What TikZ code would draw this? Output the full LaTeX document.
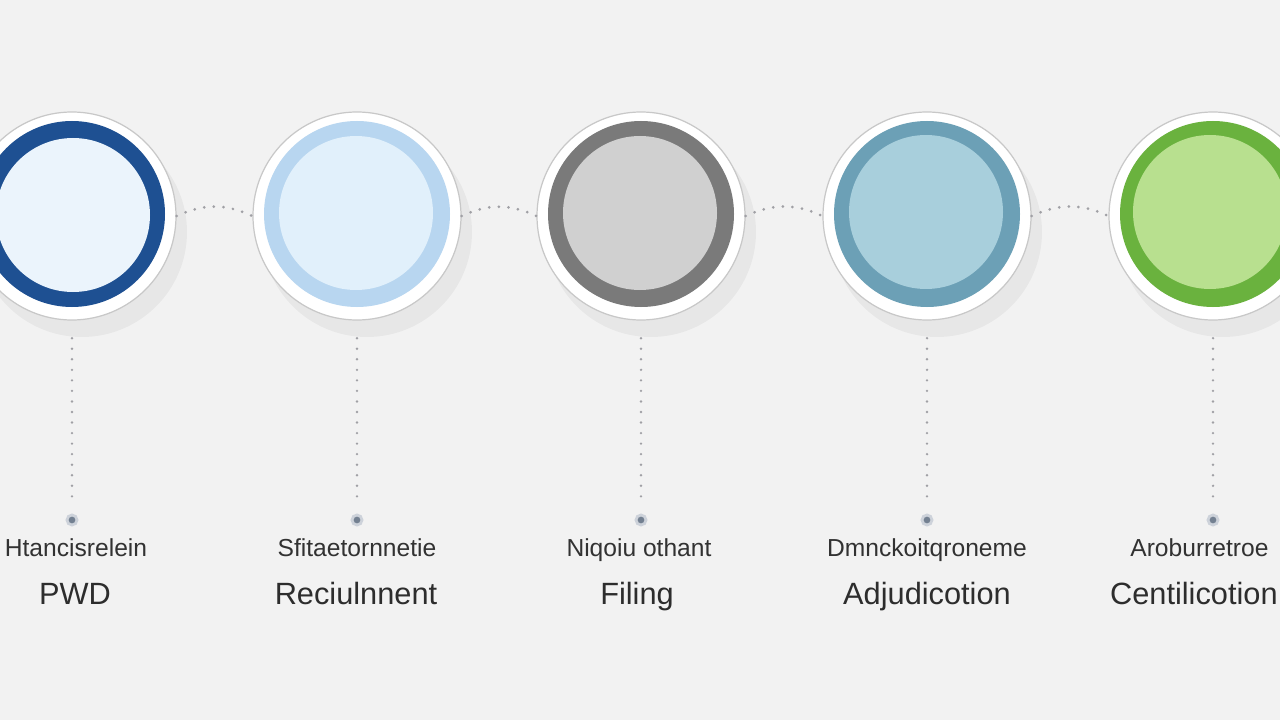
\documentclass[tikz,border=0pt]{standalone}
\usepackage{fontspec}
\setmainfont{Liberation Sans}
\usetikzlibrary{positioning}

\begin{document}
\begin{tikzpicture}[x=0.2mm, y=-0.2mm,
    shell/.style={circle, draw=shellgray, line width=0.7pt, fill=white, minimum size=4.16cm, inner sep=0pt},
    shade/.style={circle, fill=black, opacity=0.045, minimum size=4.2cm, inner sep=0pt},
    ring/.style={circle, minimum size=3.72cm, inner sep=0pt},
    core/.style={circle, minimum size=3.08cm, inner sep=0pt},
    link/.style={draw=linkgray, line width=1.7pt, dash pattern=on 0pt off 5.5pt, line cap=round},
    stem/.style={draw=linkgray, line width=1.5pt, dash pattern=on 0pt off 6pt, line cap=round},
    pin/.style={circle, fill=pingray, draw=pinring, line width=1.6pt, minimum size=0.2cm, inner sep=0pt},
    toptext/.style={font=\fontsize{14}{16}\selectfont, text=textgray, inner sep=0pt, anchor=base},
    bottext/.style={font=\fontsize{17.5}{20}\selectfont, text=textdark, inner sep=0pt, anchor=base}]
    \definecolor{bgcolor}{RGB}{242,242,242}
    \definecolor{shellgray}{RGB}{200,200,200}
    \definecolor{linkgray}{RGB}{160,160,165}
    \definecolor{pingray}{RGB}{115,128,145}
    \definecolor{pinring}{RGB}{205,210,218}
    \definecolor{textgray}{RGB}{50,50,50}
    \definecolor{textdark}{RGB}{45,45,45}
    \definecolor{navyring}{RGB}{30,80,146}
    \definecolor{navycore}{RGB}{235,244,252}
    \definecolor{skyring}{RGB}{184,214,240}
    \definecolor{skycore}{RGB}{225,240,251}
    \definecolor{stonering}{RGB}{122,122,122}
    \definecolor{stonecore}{RGB}{208,208,208}
    \definecolor{tealring}{RGB}{108,160,182}
    \definecolor{tealcore}{RGB}{168,207,220}
    \definecolor{leafring}{RGB}{106,178,62}
    \definecolor{leafcore}{RGB}{184,224,143}

    % Canvas
    \fill[bgcolor] (0,0) rectangle (1280,720);
    \useasboundingbox (0,0) rectangle (1280,720);

    % Soft shadows
    \node[shade] (shadowA) at (82,232) {};
    \node[shade] (shadowB) at (367,232) {};
    \node[shade] (shadowC) at (651,232) {};
    \node[shade] (shadowD) at (937,232) {};
    \node[shade] (shadowE) at (1223,232) {};

    % Outer shells
    \node[shell] (shellA) at (72,216) {};
    \node[shell] (shellB) at (357,216) {};
    \node[shell] (shellC) at (641,216) {};
    \node[shell] (shellD) at (927,216) {};
    \node[shell] (shellE) at (1213,216) {};

    % Coloured rings and cores
    \node[ring, fill=navyring] (ringA) at (72,214) {};
    \node[core, fill=navycore] (coreA) at (73,215) {};
    \node[ring, fill=skyring] (ringB) at (357,214) {};
    \node[core, fill=skycore] (coreB) at (356,213) {};
    \node[ring, fill=stonering] (ringC) at (641,214) {};
    \node[core, fill=stonecore] (coreC) at (640,213) {};
    \node[ring, fill=tealring] (ringD) at (927,214) {};
    \node[core, fill=tealcore] (coreD) at (926,212) {};
    \node[ring, fill=leafring] (ringE) at (1213,214) {};
    \node[core, fill=leafcore] (coreE) at (1210,212) {};

    % Dotted links between the shells
    \draw[link] (shellA.east) to[bend left=25] (shellB.west);
    \draw[link] (shellB.east) to[bend left=25] (shellC.west);
    \draw[link] (shellC.east) to[bend left=25] (shellD.west);
    \draw[link] (shellD.east) to[bend left=25] (shellE.west);

    % Pins
    \node[pin] (pinA) at (72,520) {};
    \node[pin] (pinB) at (357,520) {};
    \node[pin] (pinC) at (641,520) {};
    \node[pin] (pinD) at (927,520) {};
    \node[pin] (pinE) at (1213,520) {};

    % Dotted stems
    \draw[stem, shorten <=10pt, shorten >=5pt] (shellA.south) -- (pinA.north);
    \draw[stem, shorten <=10pt, shorten >=5pt] (shellB.south) -- (pinB.north);
    \draw[stem, shorten <=10pt, shorten >=5pt] (shellC.south) -- (pinC.north);
    \draw[stem, shorten <=10pt, shorten >=5pt] (shellD.south) -- (pinD.north);
    \draw[stem, shorten <=10pt, shorten >=5pt] (shellE.south) -- (pinE.north);

    % Labels
    \node[toptext] (topA) at (76,556) {Htancisrelein};
    \node[bottext] (labA) at (75,604) {PWD};
    \node[toptext] (topB) at (357,556) {Sfitaetornnetie};
    \node[bottext] (labB) at (356,604) {Reciulnnent};
    \node[toptext] (topC) at (639,556) {Niqoiu othant};
    \node[bottext] (labC) at (637,604) {Filing};
    \node[toptext] (topD) at (927,556) {Dmnckoitqroneme};
    \node[bottext] (labD) at (927,604) {Adjudicotion};
    \node[toptext, anchor=base west] (topE) at (1130,556) {Aroburretroe};
    \node[bottext, anchor=base east] (labE) at (1278,604) {Centilicotion};
\end{tikzpicture}
\end{document}
